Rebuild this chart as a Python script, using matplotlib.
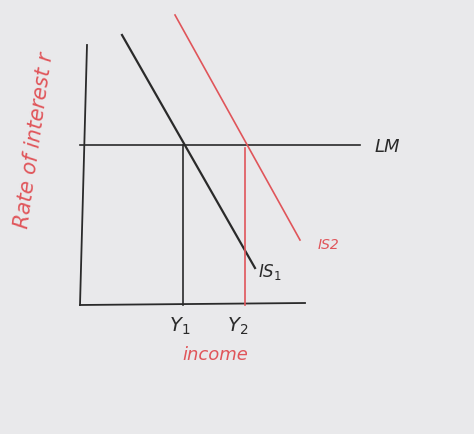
import matplotlib.pyplot as plt

# sketch coordinates (image-like units, y grows downward)
axis_x = [80, 305]
axis_y_top = 45
origin_y = 305
lm_x = [80, 360]
lm_y = 145
is1_x = [122, 255]
is1_y = [35, 268]
is2_x = [175, 300]
is2_y = [15, 240]
y1_x = 183
y2_x = 245

ink = '#2a2a2a'
red = '#e0555a'

fig = plt.figure(figsize=(4.74, 4.34), dpi=100)
fig.patch.set_facecolor('#e9e9eb')
ax = fig.add_axes([0, 0, 1, 1])
ax.set_facecolor('#e9e9eb')
ax.set_xlim(0, 474)
ax.set_ylim(434, 0)
ax.axis('off')

# axes of the sketch
ax.plot([87, 80], [axis_y_top, origin_y], color=ink, lw=1.3)
ax.plot(axis_x, [origin_y, 303], color=ink, lw=1.3)

# LM, IS1, IS2
ax.plot(lm_x, [lm_y, lm_y], color=ink, lw=1.2)
ax.plot(is1_x, is1_y, color=ink, lw=1.6)
ax.plot(is2_x, is2_y, color=red, lw=1.2)

# drop lines
ax.plot([y1_x, y1_x], [lm_y, origin_y], color=ink, lw=1.2)
ax.plot([y2_x, y2_x], [lm_y + 3, origin_y], color=red, lw=1.2)

hand = dict(fontfamily='DejaVu Sans', fontstyle='italic')
ax.text(375, 147, 'LM', color=ink, fontsize=13, ha='left', va='center', **hand)
ax.text(258, 272, 'IS$_1$', color=ink, fontsize=12, ha='left', va='center', **hand)
ax.text(318, 245, 'IS2', color=red, fontsize=10, ha='left', va='center', **hand)
ax.text(180, 326, 'Y$_1$', color=ink, fontsize=14, ha='center', va='center', **hand)
ax.text(238, 326, 'Y$_2$', color=ink, fontsize=14, ha='center', va='center', **hand)
ax.text(215, 355, 'income', color=red, fontsize=13, ha='center', va='center', **hand)
ax.text(34, 140, 'Rate of interest r', color=red, fontsize=15, rotation=82,
        ha='center', va='center', **hand)

fig.savefig('out.png', dpi=100, facecolor=fig.get_facecolor())
